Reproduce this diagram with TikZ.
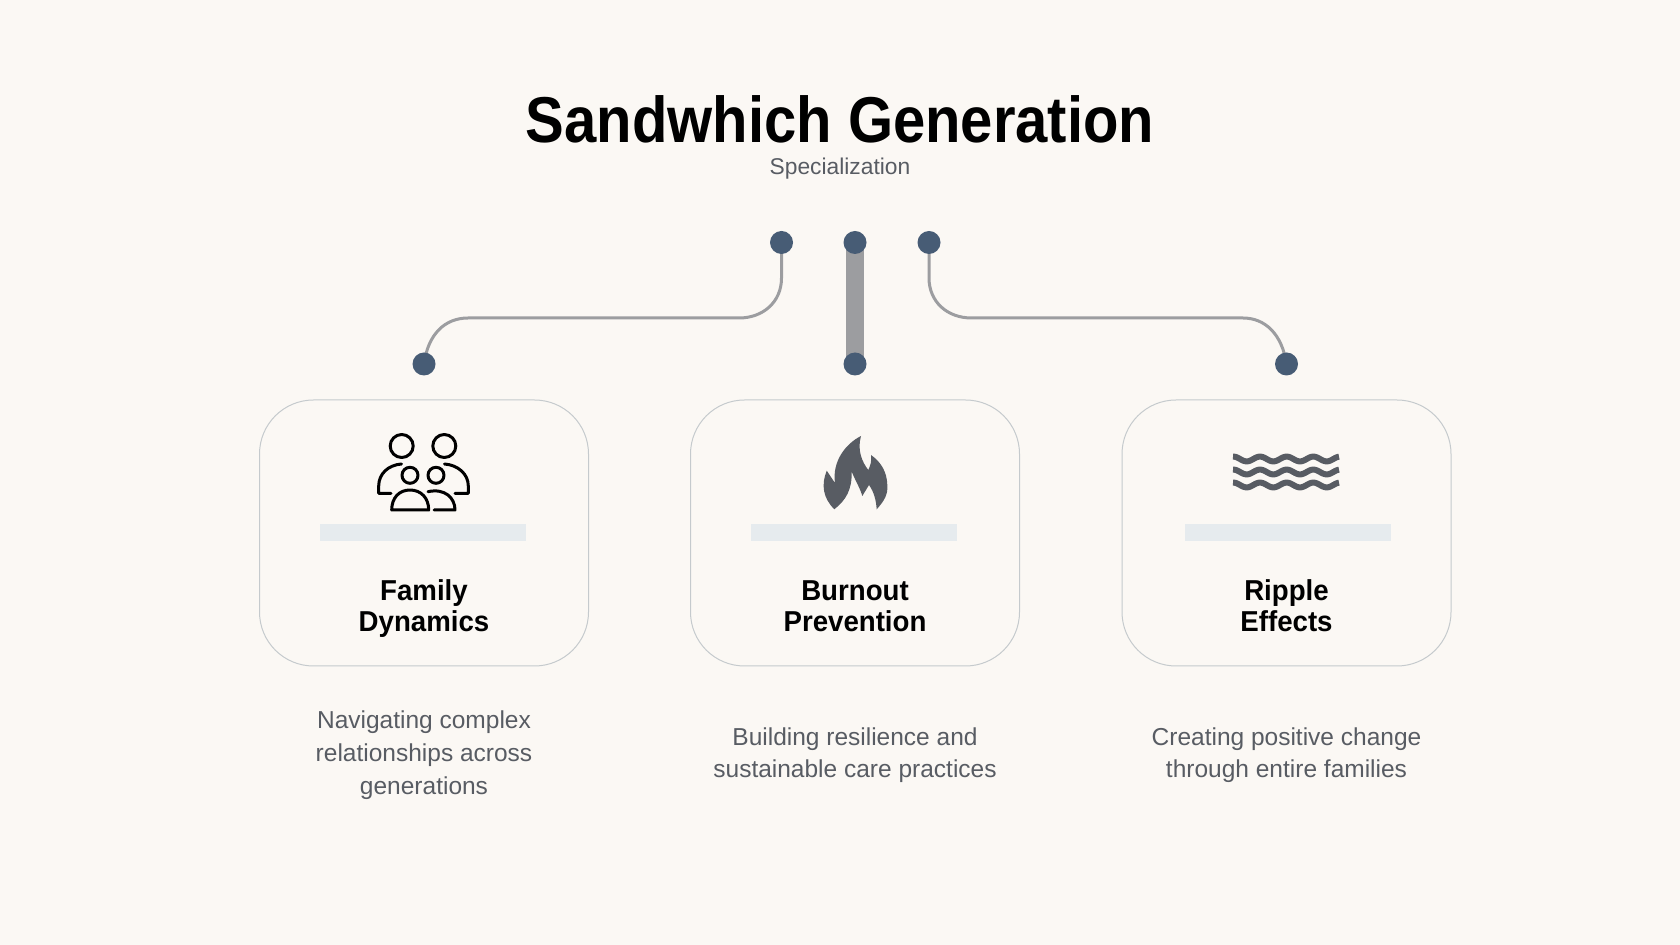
\documentclass[tikz,border=0pt]{standalone}
\usepackage{fontspec}
\setmainfont{Liberation Sans}
\newfontfamily\titlefont[FakeStretch=0.895]{Liberation Sans}
\newfontfamily\headfont[FakeStretch=0.96]{Liberation Sans}
\usetikzlibrary{backgrounds}
\definecolor{paper}{HTML}{FBF8F4}
\definecolor{dotblue}{HTML}{475C75}
\definecolor{wiregray}{HTML}{9C9DA0}
\definecolor{cardline}{HTML}{C5CACD}
\definecolor{barfill}{HTML}{E6EBEE}
\definecolor{inkgray}{HTML}{585C63}
\newcommand{\pxfont}[2]{\fontsize{#1}{#2}\selectfont}
\begin{document}
\begin{tikzpicture}[x=0.5pt,y=-0.5pt]
\tikzstyle{dot}=[circle,fill=dotblue,minimum size=11.5pt,inner sep=0pt]
\tikzstyle{card}=[draw=cardline,line width=0.5pt,rounded corners=27pt,minimum width=164.5pt,minimum height=133pt]
\tikzstyle{band}=[fill=barfill,minimum width=103pt,minimum height=8.5pt,inner sep=0pt]
\tikzstyle{cardtitle}=[align=center,font=\headfont\bfseries\pxfont{14.4}{15.6},text=black]
\tikzstyle{cardtext}=[align=center,font=\pxfont{12.25}{16.4},text=inkgray]
\tikzstyle{wire}=[draw=wiregray,line width=1.5pt]
\tikzstyle{icon}=[draw=black,line width=1.5pt,line cap=round,line join=round]

\useasboundingbox (0,0) rectangle (1680,945);

% Heading
\node[anchor=base,font=\titlefont\bfseries\pxfont{32.4}{32.4}] (title) at (840,143) {Sandwhich Generation};
\node[anchor=base,font=\pxfont{11.4}{11.4},text=inkgray] (subtitle) at (840,175) {Specialization};

% Dots and connectors
\foreach \i/\tx/\bx in {1/781.5/424,2/855/855,3/929/1286.5} {
  \node[dot] (t\i) at (\tx,242.5) {};
  \node[dot] (b\i) at (\bx,364) {};
}
\begin{scope}[on background layer]
\fill[paper] (0,0) rectangle (1680,945);
\draw[wire] (t1.center) -- (781.5,278) .. controls (781.5,302) and (763,318) .. (739,318) -- (468,318) .. controls (445,318) and (428,334) .. (b1.center);
\draw[wire,line width=9pt] (t2.center) -- (b2.center);
\draw[wire] (t3.center) -- (929,278) .. controls (929,302) and (947.5,318) .. (971.5,318) -- (1243,318) .. controls (1265,318) and (1282,334) .. (b3.center);
\end{scope}

% Cards
\foreach \i/\x/\barx/\lbl/\desc in {
  1/424/423/{Family\\Dynamics}/{Navigating complex\\relationships across\\generations},
  2/855/854/{Burnout\\Prevention}/{Building resilience and\\sustainable care practices},
  3/1286.5/1287.5/{Ripple\\Effects}/{Creating positive change\\through entire families}} {
  \node[card] (card\i) at (\x,533) {};
  \node[band] (band\i) at (\barx,532.5) {};
  \node[cardtitle] (head\i) at (\x,610) {\strut\lbl\strut};
  \node[cardtext] (desc\i) at (\x,755) {\strut\desc\strut};
}

% Family icon
\node[icon,circle,minimum size=11.5pt,inner sep=0pt] (parent1) at (401.7,446) {};
\node[icon,circle,minimum size=11.5pt,inner sep=0pt] (parent2) at (444.3,446) {};
\node[icon,circle,minimum size=8pt,inner sep=0pt] (kid1) at (410,475.3) {};
\node[icon,circle,minimum size=8pt,inner sep=0pt] (kid2) at (436,475.3) {};
\draw[icon] (401.5,464) .. controls (388,465) and (378.7,474) .. (378.7,486) -- (378.7,493.3) -- (391,493.3);
\draw[icon] (444.5,464) .. controls (458,465) and (468.3,474) .. (468.3,486) -- (468.3,493.3) -- (455,493.3);
\draw[icon] (391.7,510) .. controls (391.7,498) and (399,490) .. (410,490) .. controls (421,490) and (428.7,498) .. (428.7,510) -- cycle;
\draw[icon] (428,491.7) .. controls (445,488) and (455,498) .. (455,510) -- (434,510);

% Flame icon
\fill[inkgray] (861,436) .. controls (845,444) and (832,462) .. (835,483) -- (826.7,470.7)
  .. controls (821,485) and (823,498) .. (834.3,509.3) .. controls (846,500) and (852,490) .. (851.7,471.7)
  .. controls (856,482) and (860,488) .. (862.3,496) -- (869,485)
  .. controls (874,492) and (876,500) .. (876.7,509.3) .. controls (885,500) and (888,494) .. (887.3,485)
  .. controls (887,472) and (881,462) .. (871,455) .. controls (872,462) and (870,466) .. (868.3,470)
  .. controls (862,462) and (857,450) .. cycle;

% Waves icon
\foreach \y in {459,472,485} {
  \draw[draw=inkgray,line width=3pt] plot[domain=1233:1339,samples=90,smooth] (\x,{\y-2.4*cos((\x-1260)*13.5)});
}
\end{tikzpicture}
\end{document}
